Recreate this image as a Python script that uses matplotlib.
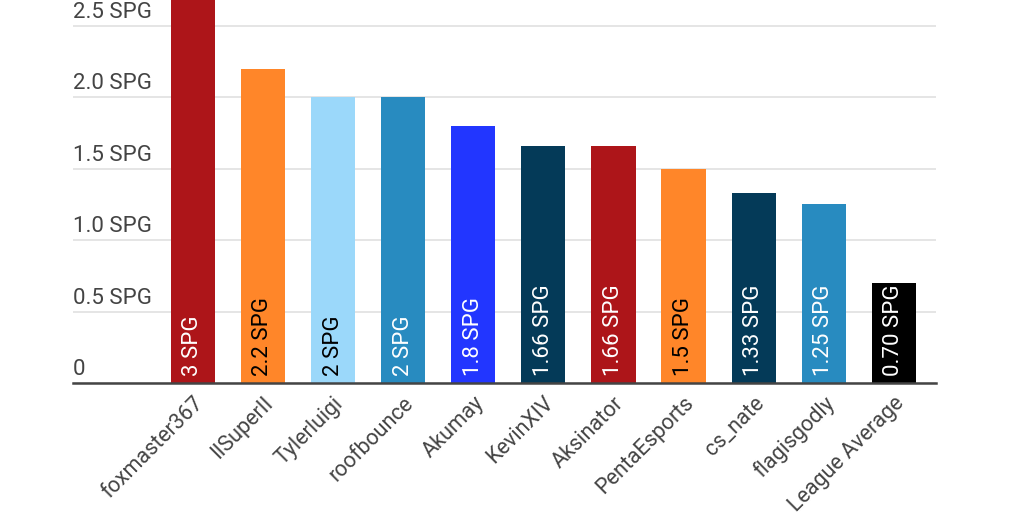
import matplotlib
matplotlib.use("Agg")
import matplotlib.pyplot as plt
import matplotlib.transforms as mtransforms
import numpy as np

plt.rcParams['font.family'] = ['Roboto', 'DejaVu Sans']

players = ['foxmaster367', 'IISuperII', 'Tylerluigi', 'roofbounce', 'Akumay', 'KevinXIV',
           'Aksinator', 'PentaEsports', 'cs_nate', 'flagisgodly', 'League Average']
spg = [3.0, 2.2, 2.0, 2.0, 1.8, 1.66, 1.66, 1.5, 1.33, 1.25, 0.70]
bar_labels = ['3 SPG', '2.2 SPG', '2 SPG', '2 SPG', '1.8 SPG', '1.66 SPG', '1.66 SPG',
              '1.5 SPG', '1.33 SPG', '1.25 SPG', '0.70 SPG']
bar_colors = ['#ad1519', '#ff8629', '#9bd8fa', '#288bc0', '#2236ff', '#043a58',
              '#ad1519', '#ff8629', '#043a58', '#288bc0', '#000000']
text_colors = ['white', 'black', 'black', 'white', 'white', 'white',
               'white', 'black', 'white', 'white', 'white']
y_ticks = [0, 0.5, 1.0, 1.5, 2.0, 2.5]
y_tick_labels = ['0', '0.5 SPG', '1.0 SPG', '1.5 SPG', '2.0 SPG', '2.5 SPG']

fig = plt.figure(figsize=(10.24, 5.12), dpi=100)
ax = fig.add_axes([0.0713, 0.252, 0.8427, 0.748])

x = np.arange(len(players))
ax.bar(x, spg, width=0.63, color=bar_colors, zorder=2)

ax.set_xlim(-1.71, 10.6)
ax.set_ylim(0, 2.682)

# gridlines, with labels sitting on top of them (left aligned)
ax.set_yticks(y_ticks)
ax.yaxis.grid(True, color='#e0e0e0', linewidth=1.2, zorder=0)
ax.tick_params(axis='y', length=0, labelleft=False)
ytrans = mtransforms.offset_copy(ax.get_yaxis_transform(), fig=fig, x=0, y=3, units='dots')
for t, lab in zip(y_ticks, y_tick_labels):
    ax.text(0, t, lab, transform=ytrans, ha='left', va='bottom',
            fontsize=16, color='#444444')

# value labels inside the bars
vtrans = mtransforms.offset_copy(ax.transData, fig=fig, x=0, y=7, units='dots')
for xi, lab, c in zip(x, bar_labels, text_colors):
    ax.text(xi, 0, lab, transform=vtrans, rotation=90, ha='center', va='bottom',
            fontsize=16, color=c, zorder=3)

ax.set_xticks(x)
ax.set_xticklabels(players, rotation=45, ha='right', rotation_mode='anchor',
                   fontsize=15.5, color='#444444')
ax.tick_params(axis='x', length=0, pad=7)

for s in ['top', 'left', 'right']:
    ax.spines[s].set_visible(False)
ax.spines['bottom'].set_color('#444444')
ax.spines['bottom'].set_linewidth(1.8)
ax.spines['bottom'].set_zorder(4)

fig.savefig('out.png', dpi=100)
